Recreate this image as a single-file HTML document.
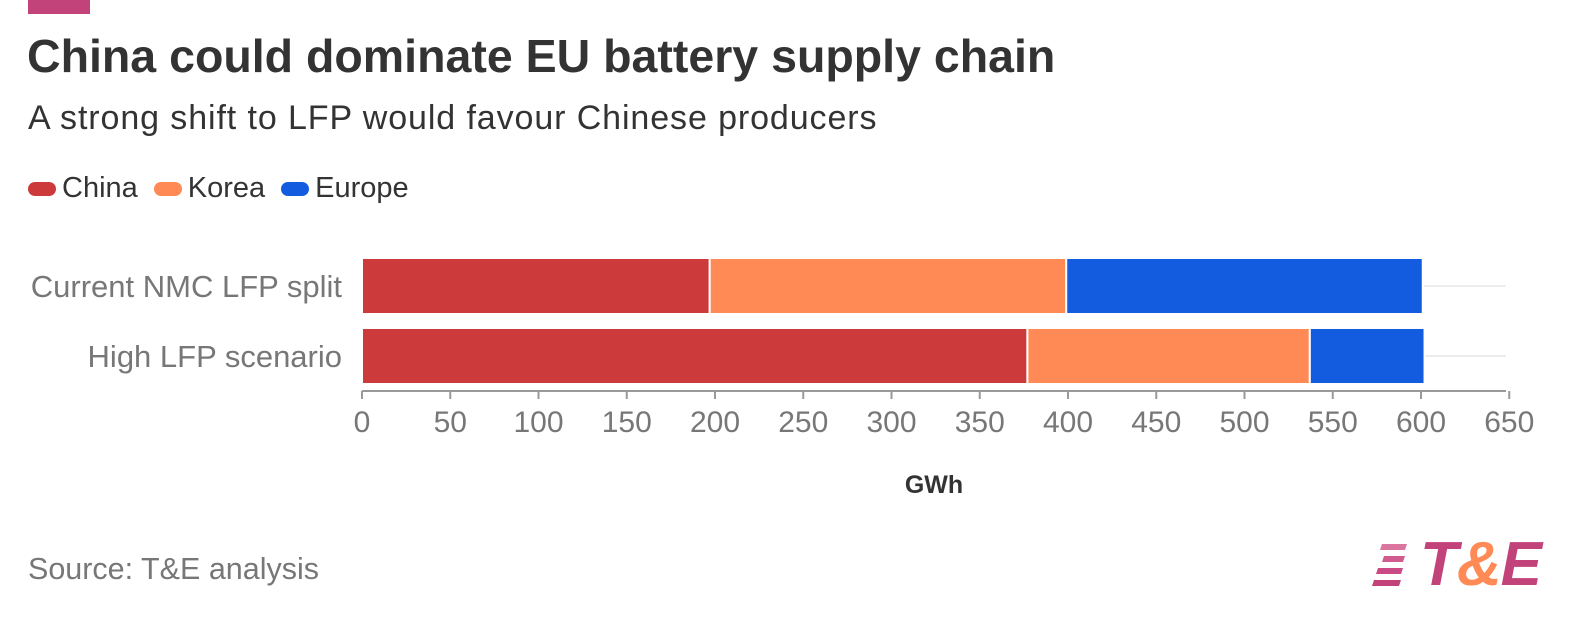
<!DOCTYPE html>
<html><head><meta charset="utf-8"><style>
body{margin:0;width:1588px;height:632px;background:#fff;font-family:"Liberation Sans",sans-serif;overflow:hidden;position:relative}
.abs{position:absolute;white-space:nowrap}
</style></head><body>
<div class="abs" style="left:28px;top:0;width:62px;height:14px;background:#c2427a"></div>
<div class="abs" style="left:27px;top:29px;font-size:46.5px;font-weight:bold;color:#333">China could dominate EU battery supply chain</div>
<div class="abs" style="left:28px;top:99px;font-size:34px;color:#333;letter-spacing:0.9px">A strong shift to LFP would favour Chinese producers</div>
<div class="abs" style="left:28px;top:172px;font-size:29px;color:#333;display:flex;align-items:center">
 <span style="display:flex;align-items:center"><span style="width:28px;height:14px;border-radius:7px;background:#cd3a3b;margin-right:6px"></span>China</span>
 <span style="display:flex;align-items:center;margin-left:16px"><span style="width:28px;height:14px;border-radius:7px;background:#ff8a55;margin-right:6px"></span>Korea</span>
 <span style="display:flex;align-items:center;margin-left:16px"><span style="width:28px;height:14px;border-radius:7px;background:#135ce0;margin-right:6px"></span>Europe</span>
</div>
<svg id="chart" width="1588" height="632" style="position:absolute;left:0;top:0" font-family="Liberation Sans, sans-serif"></svg>
<div class="abs" style="left:28px;top:552px;font-size:30.5px;color:#777">Source: T&amp;E analysis</div>
<div class="abs" style="left:1372px;top:536px;height:56px;display:flex;align-items:center">
 <svg width="40" height="50">
  <polygon points="10,5 35,5 33,11 8,11" fill="#d9759f"/>
  <polygon points="12,17 33,17 31,23 10,23" fill="#d15a8e"/>
  <polygon points="6,29 31,29 29,35 4,35" fill="#c94a84"/>
  <polygon points="2,41 29,41 27,47 0,47" fill="#c2427a"/>
 </svg>
 <span style="font-size:62px;font-weight:bold;font-style:italic;color:#c2427a;margin-left:8px;letter-spacing:-1px">T<span style="color:#ff8a55">&amp;</span>E</span>
</div>
<script>
const categories=["Current NMC LFP split","High LFP scenario"];
const china=[197,377];
const korea=[202,160];
const europe=[202,65];
const ticks=[0,50,100,150,200,250,300,350,400,450,500,550,600,650];
const colors=["#cd3a3b","#ff8a55","#135ce0"];
const svg=document.getElementById('chart');
const NS="http://www.w3.org/2000/svg";
const x0=362,pxPer=(1421-362)/600;
const xs=v=>x0+v*pxPer;
const rowTop=[258,328],bh=56;
function mk(t,a){const e=document.createElementNS(NS,t);for(const k in a)e.setAttribute(k,a[k]);svg.appendChild(e);return e;}
categories.forEach((c,i)=>{
 const g=mk('line',{x1:x0,x2:1506,y1:rowTop[i]+bh/2,y2:rowTop[i]+bh/2,stroke:'#ececec','stroke-width':2});
 
 
});
categories.forEach((c,i)=>{
 const vals=[china[i],korea[i],europe[i]];const names=['china','korea','europe'];
 let acc=0;
 vals.forEach((v,j)=>{
  const r=mk('rect',{x:xs(acc),y:rowTop[i],width:xs(acc+v)-xs(acc),height:bh,fill:colors[j],stroke:'#fff','stroke-width':2});
  
  
  acc+=v;
 });
 const t=mk('text',{x:342,y:rowTop[i]+bh/2+11,'text-anchor':'end','font-size':31,fill:'#777'});
 t.textContent=c;
 
 
});
const ax=mk('line',{x1:x0,x2:1506,y1:391,y2:391,stroke:'#999','stroke-width':2});


ticks.forEach(v=>{
 const l=mk('line',{x1:xs(v),x2:xs(v),y1:391,y2:399,stroke:'#999','stroke-width':2});
 
 
 const t=mk('text',{x:xs(v),y:432,'text-anchor':'middle','font-size':30,fill:'#777'});
 t.textContent=v;
 
 
});
const at=mk('text',{x:934,y:493,'text-anchor':'middle','font-size':25,'font-weight':'bold',fill:'#333'});
at.textContent='GWh';


</script>
</body></html>
